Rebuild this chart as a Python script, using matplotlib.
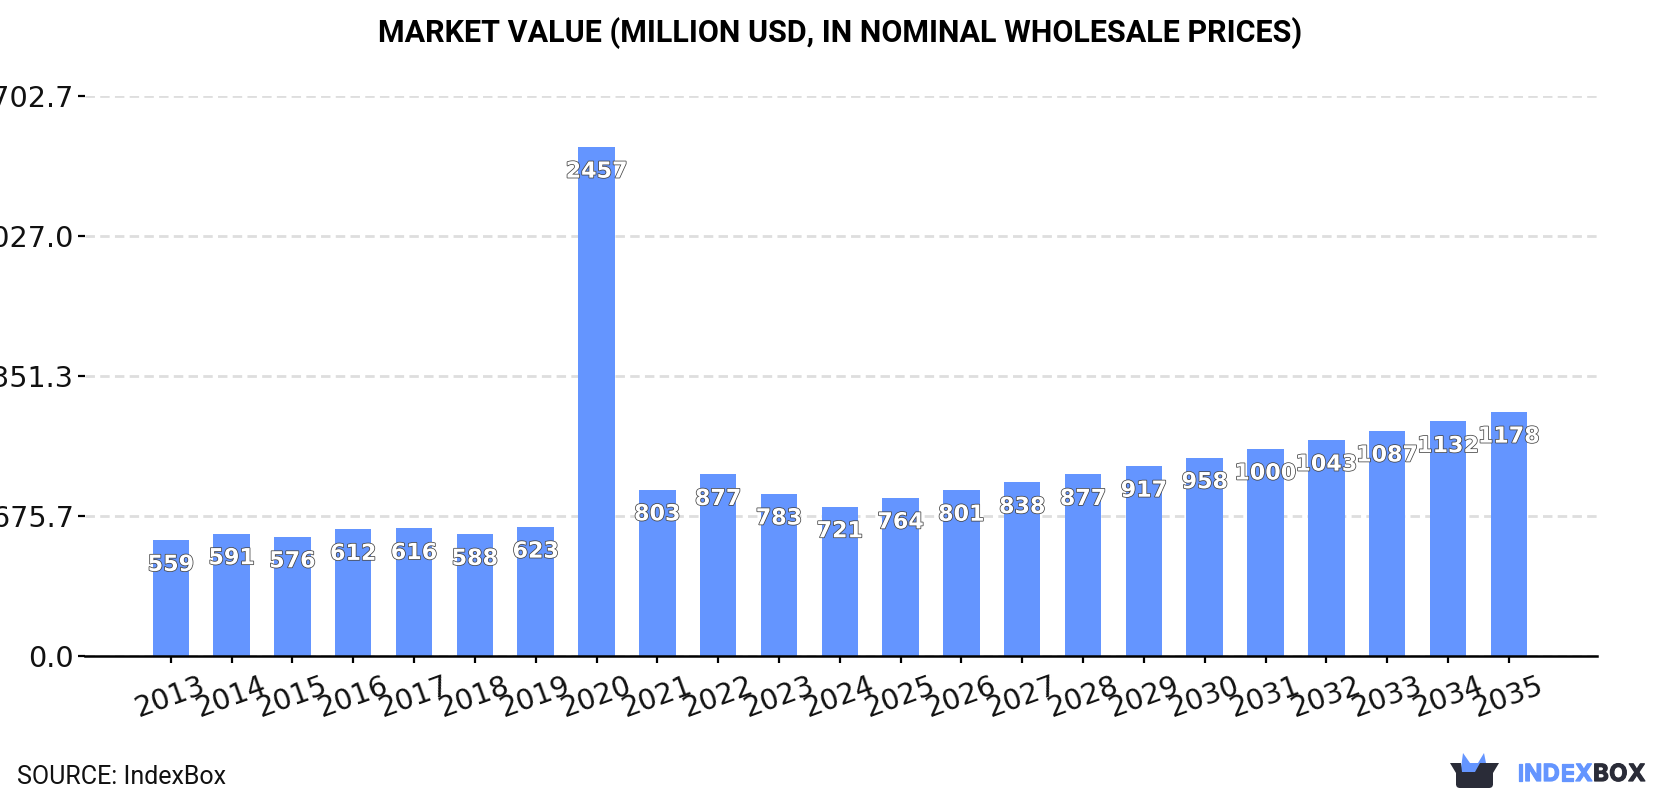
import matplotlib
matplotlib.use("Agg")
import matplotlib.pyplot as plt
import matplotlib.patheffects as pe
from matplotlib.patches import Polygon, FancyBboxPatch

years = [str(y) for y in range(2013, 2036)]
values = [559, 591, 576, 612, 616, 588, 623, 2457, 803, 877, 783, 721,
          764, 801, 838, 877, 917, 958, 1000, 1043, 1087, 1132, 1178]
y_ticks = [0.0, 675.7, 1351.3, 2027.0, 2702.7]
y_tick_labels = ["0.0", "675.7", "1351.3", "2027.0", "2702.7"]

BLUE = "#6495ff"
DARK = "#2a2c38"
W, H = 1680, 800

fig = plt.figure(figsize=(W / 100, H / 100), dpi=100, facecolor="white")
ax = fig.add_axes([85 / W, 1 - 656 / H, (1597 - 85) / W, (656 - 96) / H])

x = list(range(len(years)))
ax.bar(x, values, width=0.6, color=BLUE, zorder=2)
ax.set_xlim(-1.41, 23.45)
ax.set_ylim(0, y_ticks[-1])

ax.set_yticks(y_ticks, y_tick_labels, fontsize=20.6, color="#111111")
ax.set_xticks(x, years, fontsize=20.6, rotation=20, color="#111111")
ax.tick_params(axis="both", length=5, width=1.6, pad=3, color="black")
ax.tick_params(axis="x", pad=6)
ax.yaxis.grid(True, color="#dedede", lw=2, linestyle=(0, (3.4, 1.9)), zorder=1)
ax.set_axisbelow(True)
for side in ("left", "right", "top"):
    ax.spines[side].set_visible(False)
ax.spines["bottom"].set_linewidth(1.8)
ax.spines["bottom"].set_color("black")

# value labels: white bold digits with a thin dark outline, just under each bar top
for xi, v in zip(x, values):
    ax.annotate(str(v), (xi, v), xytext=(0, -17.8), textcoords="offset points",
                ha="center", va="center", fontsize=16, fontweight="bold",
                color="white", zorder=3,
                path_effects=[pe.Stroke(linewidth=1.1, foreground="#444444"), pe.Normal()])

fig.text(0.5, 1 - 32.8 / H, "MARKET VALUE (MILLION USD, IN NOMINAL WHOLESALE PRICES)",
         ha="center", va="center", fontsize=22, fontweight="bold",
         family="Roboto", color="black")
fig.text(17 / W, 1 - 776.5 / H, "SOURCE: IndexBox", ha="left", va="center",
         fontsize=18, family="Roboto", color="#111111")

# logo: an open box with blue contents, then the wordmark
logo = fig.add_axes([0, 0, 1, 1], facecolor="none")
logo.set_xlim(0, W)
logo.set_ylim(H, 0)
logo.axis("off")
logo.add_patch(Polygon([(1461, 768), (1463, 753), (1470, 763), (1478, 763), (1484, 753),
                        (1487, 768), (1478, 785), (1461, 785)], closed=True,
                       facecolor=BLUE, edgecolor="none"))
logo.add_patch(Polygon([(1450, 763), (1461, 763), (1462, 772), (1475, 772), (1480, 763),
                        (1499, 763), (1493, 773), (1493, 785), (1456, 785), (1456, 773)],
                       closed=True, facecolor=DARK, edgecolor="none"))
logo.add_patch(FancyBboxPatch((1456, 778), 37, 10, boxstyle="round,pad=0,rounding_size=4",
                              facecolor=DARK, edgecolor="none"))

# wordmark is letter-spaced, so each glyph is advanced by hand
renderer = fig.canvas.get_renderer()
pen = 1517.0
for word, colour in (("INDEX", BLUE), ("BOX", DARK)):
    for ch in word:
        t = logo.text(pen, 775, ch, ha="left", va="center", fontsize=17, fontweight="bold",
                      family="Inter", color=colour,
                      path_effects=[pe.withStroke(linewidth=0.9, foreground=colour)])
        pen += t.get_window_extent(renderer).width + 0.6

fig.savefig("out.png", dpi=100, facecolor="white")
